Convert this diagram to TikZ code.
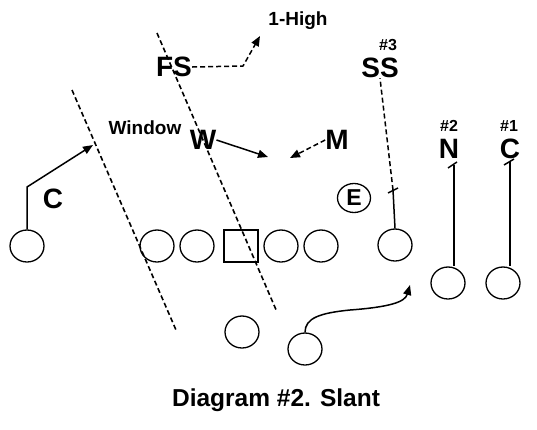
\documentclass[tikz,border=0pt]{standalone}
\usepackage{fontspec}
\setmainfont{Liberation Sans}
\usetikzlibrary{arrows.meta,shapes.geometric}
\begin{document}
\begin{tikzpicture}[x=1pt,y=-1pt,
  player/.style={draw,ellipse,line width=1.3pt,minimum width=34pt,minimum height=32pt,inner sep=0pt},
  center/.style={draw,rectangle,line width=1.3pt,minimum width=34pt,minimum height=32pt,inner sep=0pt},
  big/.style={font=\fontsize{28}{28}\selectfont\bfseries,inner sep=0pt},
  mid/.style={font=\fontsize{19}{19}\selectfont\bfseries,inner sep=0pt},
  small/.style={font=\fontsize{16}{16}\selectfont\bfseries,inner sep=0pt},
  route/.style={line width=1.5pt},
  droute/.style={line width=1.5pt,dash pattern=on 5pt off 3pt},
  tip/.style={-{Triangle[length=10pt,width=8pt]}},
  window/.style={line width=1.6pt,dash pattern=on 5pt off 3pt}]
\useasboundingbox (0,0) rectangle (537,429);
% window lines
\coordinate (l1a) at (72,90);
\coordinate (l1b) at (176,330);
\coordinate (l2a) at (157,33);
\coordinate (l2b) at (277,312);
\draw[window] (l1a) -- (l1b);
\draw[window] (l2a) -- (l2b);
% offense
\node[player] (wr) at (27,246) {};
\node[player] (ol1) at (157,246) {};
\node[player] (ol2) at (197,246) {};
\node[center] (ctr) at (241,246) {};
\node[player] (ol4) at (281,246) {};
\node[player] (ol5) at (321,246) {};
\node[player] (te) at (395,245) {};
\node[player] (s2) at (448,283) {};
\node[player] (s1) at (503,283) {};
\node[player] (qb) at (242,332) {};
\node[player] (rb) at (305,349) {};
% defense
\node[draw,ellipse,line width=1.3pt,minimum width=33pt,minimum height=29pt,inner sep=0pt,
      font=\fontsize{23}{23}\selectfont\bfseries] (E) at (354,198) {E};
\node[big] (FS) at (174,67) {FS};
\node[big] (SS) at (380,68) {SS};
\node[small] (n3) at (388,45) {\#3};
\node[big] (W) at (203,140) {W};
\node[big] (M) at (337,140) {M};
\node[big] (Cl) at (53,199) {C};
\node[big] (N) at (449,149) {N};
\node[small] (n2) at (449,126) {\#2};
\node[big] (Cr) at (510,149) {C};
\node[small] (n1) at (509,126) {\#1};
\node[mid] (window) at (145,128) {Window};
\node[mid] (high) at (298,21) {1-High};
\node[font=\fontsize{24.5}{24.5}\selectfont\bfseries,inner sep=0pt] (cap) at (276,400) {Diagram \#2. Slant};
% WR route
\coordinate (wrc) at (27,187);
\coordinate (wrt) at (93,145);
\draw[route,tip] (wr.north) -- (wrc) -- (wrt);
% TE route
\coordinate (tet) at (393,190);
\draw[route] (te.north) -- (tet);
\draw[route] (388,193) -- (398,188);
\draw[droute] (tet) -- (SS.south);
% #2 route
\coordinate (t2) at (454,165);
\draw[route] (t2) -- (t2 |- s2.north);
\draw[route] (448,168) -- (457,162);
% #1 route
\coordinate (t1) at (510,162);
\draw[route] (t1) -- (t1 |- s1.north);
\draw[route] (504,165) -- (514,159);
% FS route
\coordinate (fsc) at (243,66);
\coordinate (fst) at (260,36);
\draw[droute,tip] (FS.east) -- (fsc) -- (fst);
% W, M
\coordinate (wt) at (268,157);
\coordinate (mt) at (290,158);
\draw[route,tip] (W.east) -- (wt);
\draw[droute,tip] (M.west) -- (mt);
% RB route
\coordinate (rbt) at (410,285);
\draw[route,tip] (rb.north) .. controls (305,318) and (320,313) .. (350,310) .. controls (390,307) and (405,302) .. (rbt);
\end{tikzpicture}
\end{document}
